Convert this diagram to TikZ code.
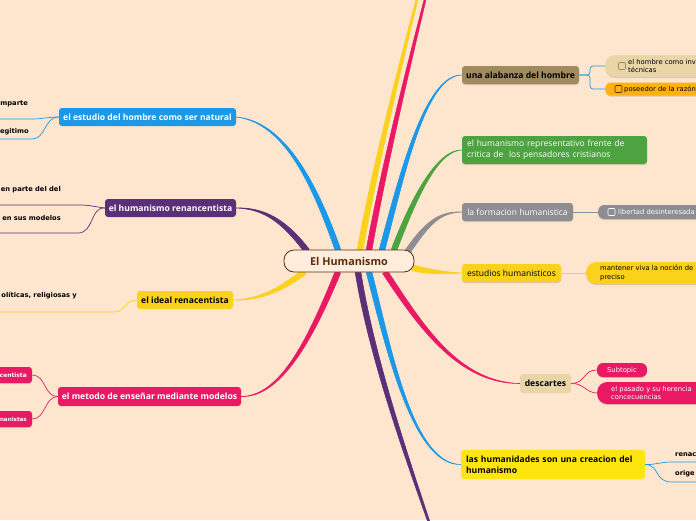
\documentclass[tikz,border=0pt]{standalone}
\usepackage{fontspec}
\setmainfont{Open Sans}
\newfontfamily\smallfont{DejaVu Sans}
\usetikzlibrary{backgrounds,calc,shadows}

\definecolor{paper}{HTML}{FEE6CE}
\definecolor{rootbrown}{HTML}{5A2D0C}
\definecolor{skyblue}{HTML}{1B98E8}
\definecolor{plum}{HTML}{5C3078}
\definecolor{sun}{HTML}{FAD11B}
\definecolor{rosered}{HTML}{E91A63}
\definecolor{earth}{HTML}{A08A5E}
\definecolor{leaf}{HTML}{4CA340}
\definecolor{slate}{HTML}{8D8D92}
\definecolor{sand}{HTML}{E8D5A8}
\definecolor{lemon}{HTML}{FFE510}
\definecolor{amber}{HTML}{FFB20F}

\tikzset{
    softshadow/.style={drop shadow={shadow xshift=0pt, shadow yshift=-1pt, opacity=.3}},
    topic/.style={rounded corners=3pt, inner sep=0pt, font=\fontsize{8.6}{11}\selectfont\bfseries},
    plaintopic/.style={rounded corners=3pt, inner sep=0pt, softshadow, font=\fontsize{8.5}{10.5}\selectfont},
    pill/.style={rounded corners=10pt, inner sep=0pt, softshadow},
    tag/.style={inner sep=0pt, font=\smallfont\fontsize{6.8}{8.4}\selectfont, align=left},
    cutoff/.style={inner sep=0pt, font=\smallfont\fontsize{6.7}{8.4}\selectfont\bfseries},
    tickbox/.style={draw, rounded corners=1pt, inner sep=0pt, minimum size=7pt, line width=.6pt}
}

% tapered main branch: colour, start, control, control, end
\newcommand{\branch}[5]{
    \filldraw[#1, line width=.6pt] ($(#2)!2.8pt!90:(#3)$) .. controls ($(#3)!2.6pt!-90:(#2)$) and ($(#4)!1pt!90:(#5)$) .. (#5)
        .. controls ($(#4)!1pt!-90:(#5)$) and ($(#3)!2.6pt!90:(#2)$) .. ($(#2)!2.8pt!-90:(#3)$) -- cycle;
}

\begin{document}
\begin{tikzpicture}[x=1pt, y=-1pt]

        \clip (0,0) rectangle (696,520);

        % Centre
        \node[draw=rootbrown, fill=paper!70!white, line width=.8pt, rounded corners=10pt, inner sep=0pt, minimum width=130pt, minimum height=22pt, text=rootbrown, font=\fontsize{10.8}{12}\selectfont\bfseries] (root) at (349,261) {El Humanismo};

        % Left side
        \node[topic, fill=skyblue, text=white, minimum width=177pt, minimum height=18pt] (estudio) at (147.5,117) {el estudio del hombre como ser natural};
        \node[topic, fill=plum, text=white, minimum width=131pt, minimum height=18pt] (renancentista) at (170.5,208) {el humanismo renancentista};
        \node[topic, fill=sun, text=black, minimum width=96pt, minimum height=18pt] (ideal) at (185,300) {el ideal renacentista};
        \node[topic, fill=rosered, text=white, minimum width=183pt, minimum height=19pt] (metodo) at (149.5,396.5) {el metodo de enseñar mediante modelos};

        \node[cutoff, anchor=east] (estudioA) at (28,103.5) {mparte};
        \node[cutoff, anchor=east] (estudioB) at (29,132) {egitimo};
        \node[cutoff, anchor=east] (renaA) at (61,189.5) {en parte del del};
        \node[cutoff, anchor=east] (renaB) at (61,217.5) {en sus modelos};
        \node[cutoff, anchor=east] (idealA) at (77,296) {olíticas, religiosas y};

        \node[fill=rosered, rounded corners=3pt, inner sep=0pt, minimum width=52pt, minimum height=16pt, softshadow] (metodoA) at (6,375) {};
        \node[fill=rosered, rounded corners=3pt, inner sep=0pt, minimum width=52pt, minimum height=16pt, softshadow] (metodoB) at (6,419) {};
        \node[cutoff, text=white, anchor=east, font=\smallfont\fontsize{5.9}{8}\selectfont\bfseries] (metodoAtext) at (27,375) {centista};
        \node[cutoff, text=white, anchor=east, font=\smallfont\fontsize{5.6}{8}\selectfont\bfseries] (metodoBtext) at (27,419) {nanistas};

        \coordinate (estudioAend) at (0,119);
        \coordinate (estudioBend) at (0,139);
        \coordinate (renaAend) at (0,205);
        \coordinate (renaBend) at (0,233);
        \coordinate (idealAend) at (0,312);

        % Right side
        \node[topic, fill=earth, text=black, minimum width=117pt, minimum height=18pt, softshadow] (alabanza) at (520.5,75) {una alabanza del hombre};
        \node[plaintopic, fill=leaf, text=white, minimum width=185pt, minimum height=28pt, text width=175pt, align=left] (representativo) at (554.5,150) {el humanismo representativo frente de\\critica de~ los pensadores cristianos};
        \node[plaintopic, fill=slate, text=white, minimum width=111pt, minimum height=18pt] (formacion) at (517.5,212) {la formacion humanistica};
        \node[plaintopic, fill=sun, text=black, minimum width=99pt, minimum height=18pt] (estudios) at (511.5,273) {estudios humanisticos};
        \node[topic, fill=sand, text=black, minimum width=51pt, minimum height=19pt] (descartes) at (545.5,383.5) {descartes};
        \node[topic, fill=lemon, text=black, minimum width=184pt, minimum height=29pt, text width=174pt, align=left] (humanidades) at (553,464.5) {las humanidades son una creacion del\\humanismo};

        % Children on the right
        \node[pill, fill=sand, minimum width=120pt, minimum height=22pt, anchor=west] (inventor) at (605,66) {};
        \node[tickbox, draw=earth] (inventorbox) at (622,66) {};
        \node[tag, anchor=west] (inventortext) at (628,66) {el hombre como inv\\técnicas};
        \node[pill, fill=amber, minimum width=120pt, minimum height=13pt, rounded corners=6pt, anchor=west] (razon) at (605,89) {};
        \node[tickbox, draw=rootbrown] (razonbox) at (618.5,89) {};
        \node[tag, anchor=west] (razontext) at (624,89) {poseedor de la razón};
        \node[pill, fill=slate, minimum width=120pt, minimum height=14pt, rounded corners=6pt, anchor=west] (libertad) at (598,212) {};
        \node[tickbox, draw=white] (libertadbox) at (611.5,212) {};
        \node[tag, anchor=west, text=white] (libertadtext) at (618,212) {libertad desinteresada};
        \node[pill, fill=sun, minimum width=130pt, minimum height=22pt, anchor=west] (nocion) at (586,273) {};
        \node[tag, anchor=west] (nociontext) at (600,273) {mantener viva la noción de\\preciso};
        \node[pill, fill=rosered, minimum width=50pt, minimum height=14pt, rounded corners=6pt] (subtopic) at (622,370) {};
        \node[tag, text=white] (subtopictext) at (622,370.5) {Subtopic};
        \node[pill, fill=rosered, minimum width=120pt, minimum height=22pt, anchor=west] (pasado) at (597,393) {};
        \node[tag, anchor=west, text=white] (pasadotext) at (611,393) {el pasado y su herencia\\concecuencias};
        \node[cutoff, anchor=west] (renacA) at (675,455) {renac};
        \node[cutoff, anchor=west] (origenB) at (675,474) {orige};

        \coordinate (renacAend) at (696,462);
        \coordinate (origenBend) at (696,482);

        % Free ends of the two branches leaving the top and the one leaving the bottom
        \coordinate (topYellow) at (442,-100);
        \coordinate (topRose) at (450,-100);
        \coordinate (bottomPlum) at (462,620);

        % Start points on the centre
        \coordinate (rootA) at (338,250);
        \coordinate (rootB) at (307,251);
        \coordinate (rootC) at (304,272);
        \coordinate (rootD) at (338,272);
        \coordinate (rootE) at (360,250);
        \coordinate (rootF) at (369,250);
        \coordinate (rootG) at (382,250);
        \coordinate (rootH) at (394,250);
        \coordinate (rootI) at (408,251);
        \coordinate (rootJ) at (413,268);
        \coordinate (rootK) at (385,272);
        \coordinate (rootL) at (369,272);
        \coordinate (rootM) at (358,272);

        \begin{scope}[on background layer]
            \fill[paper] (0,0) rectangle (696,520);

            % Main branches
            \branch{skyblue}{rootA}{315,185}{285,122}{estudio.east}
            \branch{plum}{rootB}{285,222}{265,208}{renancentista.east}
            \branch{sun}{rootC}{283,288}{262,300}{ideal.east}
            \branch{rosered}{rootD}{312,335}{282,397}{metodo.east}
            \branch{sun}{rootE}{380,140}{412,20}{topYellow}
            \branch{rosered}{rootF}{389,140}{420,20}{topRose}
            \branch{skyblue}{rootG}{402,175}{425,75}{alabanza.west}
            \branch{leaf}{rootH}{415,195}{438,150}{representativo.west}
            \branch{slate}{rootI}{428,222}{440,212}{formacion.west}
            \branch{sun}{rootJ}{430,272}{445,273}{estudios.west}
            \branch{rosered}{rootK}{420,325}{458,383}{descartes.west}
            \branch{skyblue}{rootL}{388,345}{412,465}{humanidades.west}
            \branch{plum}{rootM}{376,385}{432,525}{bottomPlum}

            % Children on the left
            \draw[skyblue, line width=.7pt] (estudio.west) .. controls (48,117) and (42,119) .. (32,119) -- (estudioAend);
            \draw[skyblue, line width=.7pt] (estudio.west) .. controls (44,117) and (46,139) .. (32,139) -- (estudioBend);
            \draw[plum, line width=.7pt] (renancentista.west) .. controls (96,207) and (90,205) .. (80,205) -- (renaAend);
            \draw[plum, line width=.7pt] (renancentista.west) .. controls (90,207) and (94,233) .. (78,233) -- (renaBend);
            \draw[sun, line width=.7pt] (ideal.west) .. controls (124,300) and (126,312) .. (114,312) -- (idealAend);
            \draw[rosered, line width=.7pt] (metodo.west) .. controls (44,397) and (46,375) .. (metodoA.east);
            \draw[rosered, line width=.7pt] (metodo.west) .. controls (44,397) and (46,419) .. (metodoB.east);

            % Children on the right
            \draw[skyblue, line width=.7pt, rounded corners=3pt] (alabanza.east) -- (590,75) -- (590,66) -- (inventor.west);
            \draw[skyblue, line width=.7pt, rounded corners=3pt] (alabanza.east) -- (590,75) -- (590,89) -- (razon.west);
            \draw[slate, line width=.8pt] (formacion.east) -- (libertad.west);
            \draw[sun, line width=.8pt] (estudios.east) -- (nocion.west);
            \draw[rosered, line width=.7pt] (descartes.east) .. controls (586,383) and (583,370) .. (subtopic.west);
            \draw[rosered, line width=.7pt] (descartes.east) .. controls (584,383) and (586,393) .. (pasado.west);
            \draw[skyblue, line width=.7pt] (humanidades.east) .. controls (655,465) and (660,462) .. (672,462) -- (renacAend);
            \draw[skyblue, line width=.7pt] (humanidades.east) .. controls (660,465) and (654,482) .. (672,482) -- (origenBend);
        \end{scope}

\end{tikzpicture}
\end{document}
